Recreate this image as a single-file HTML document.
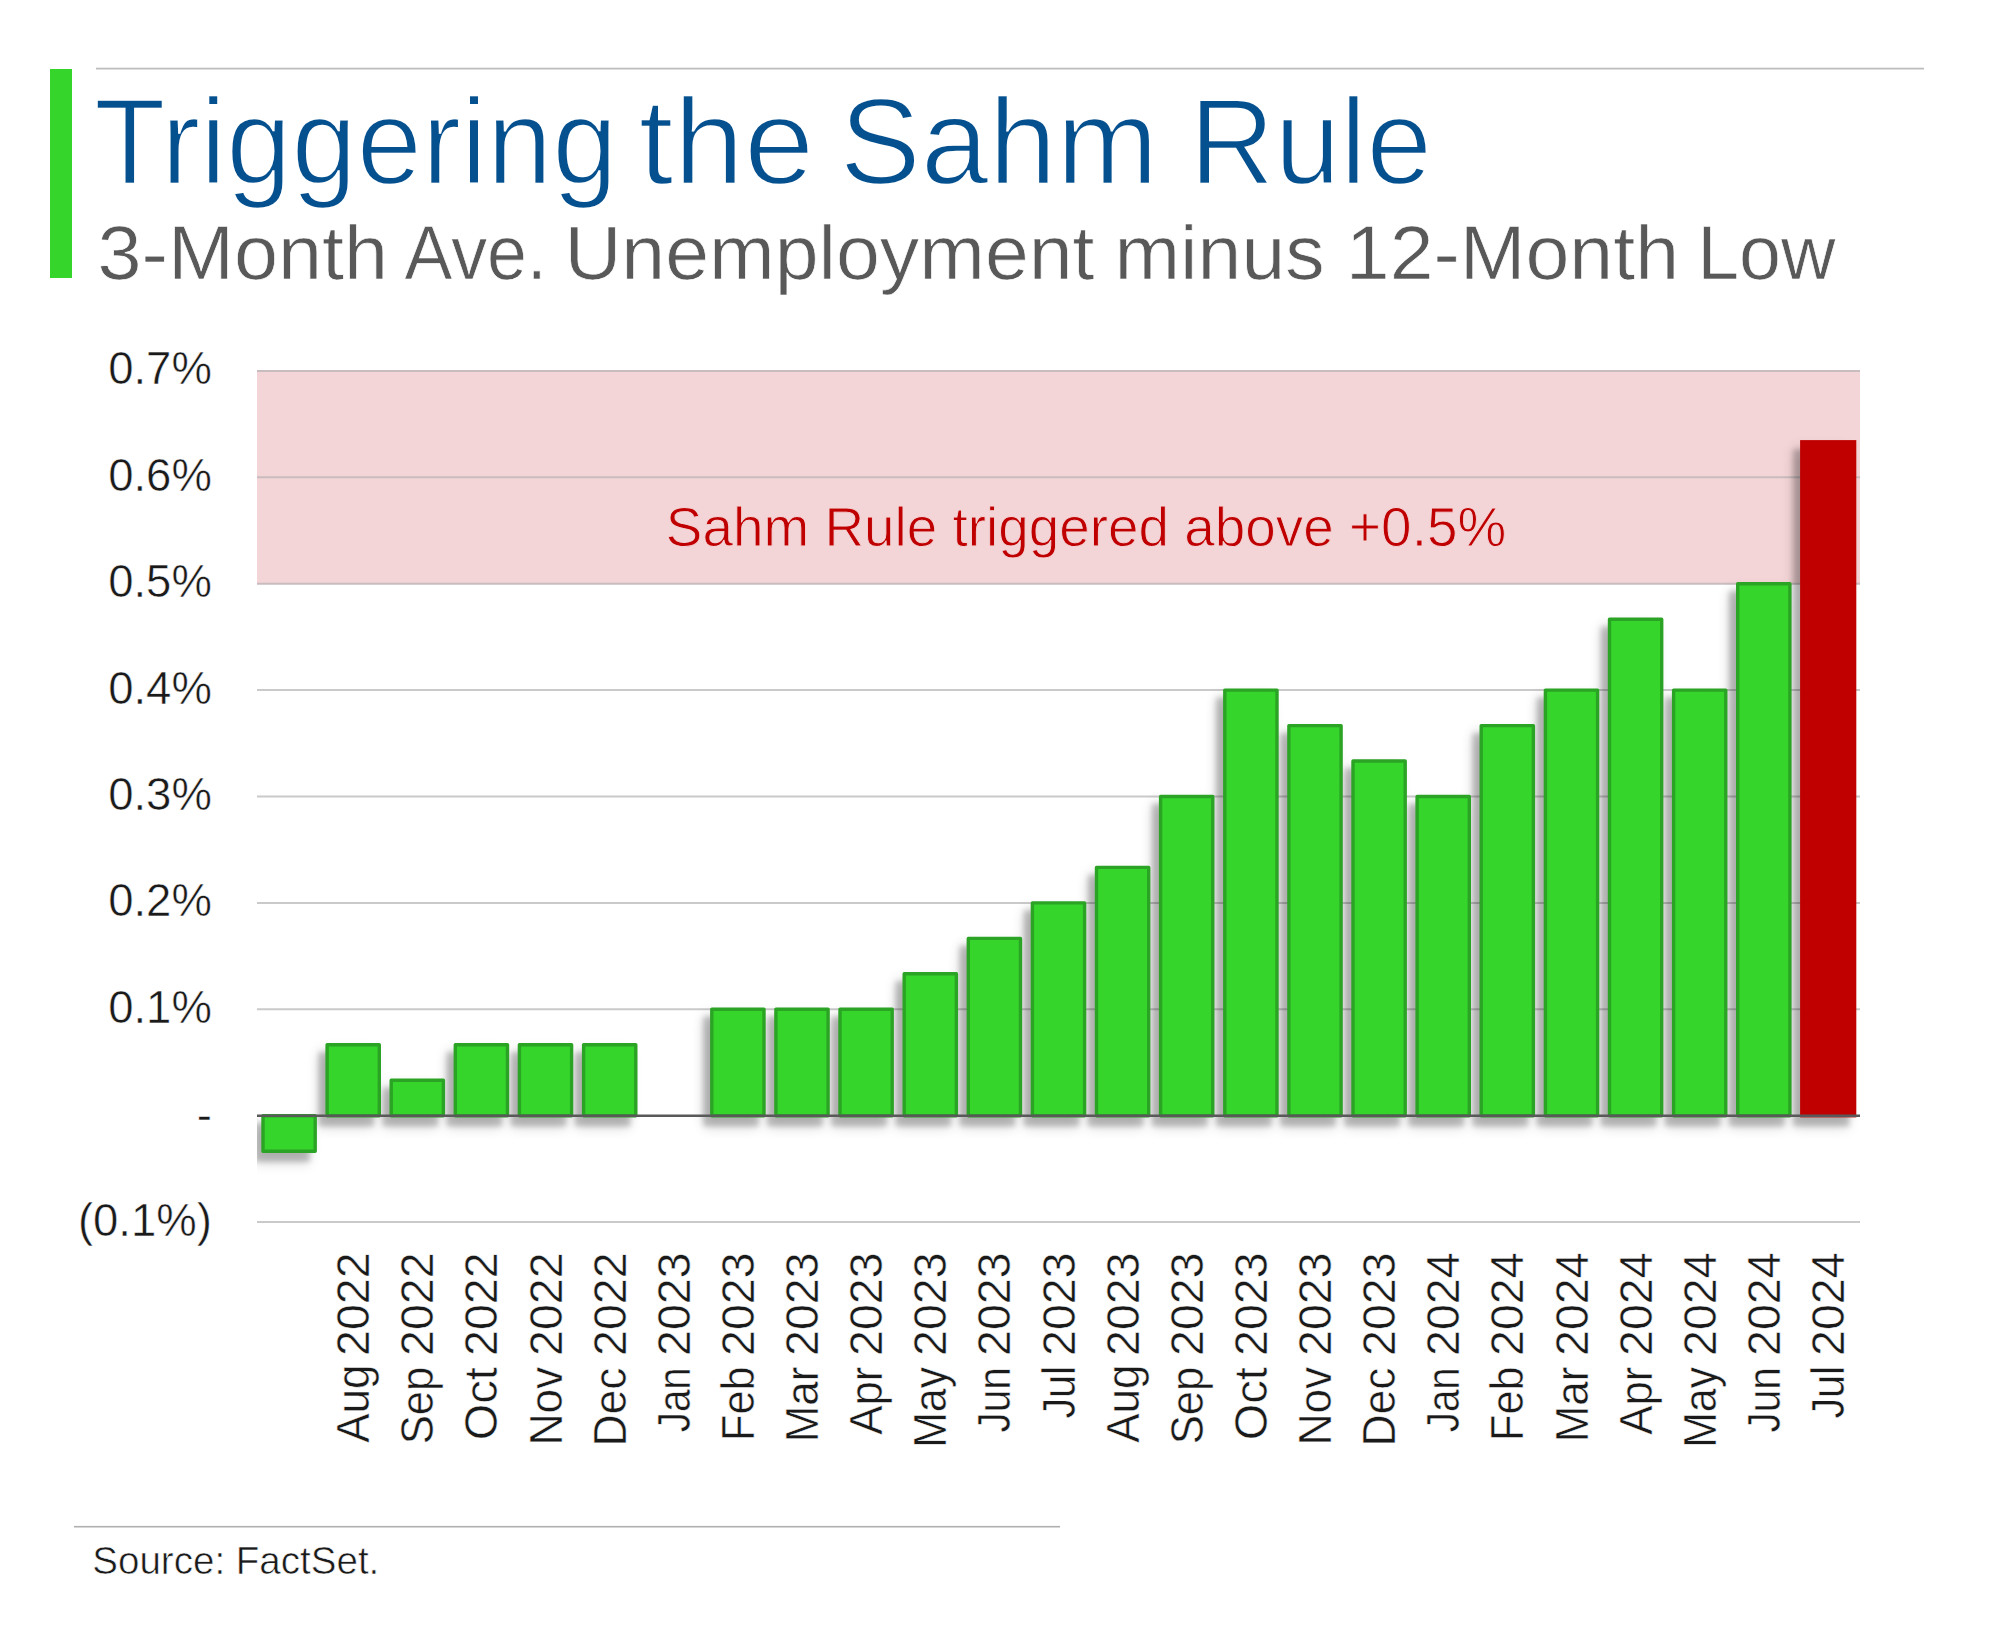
<!DOCTYPE html>
<html lang="en"><head><meta charset="utf-8"><title>Triggering the Sahm Rule</title>
<style>
html,body{margin:0;padding:0;background:#fff;}
body{width:1999px;height:1642px;overflow:hidden;font-family:"Liberation Sans",sans-serif;}
svg{display:block;position:absolute;left:0;top:0;}
text{font-family:"Liberation Sans",sans-serif;}
.yl{font-size:45.5px;fill:#1a1a1a;text-anchor:end;stroke:#fff;stroke-width:0.5px;}
.xl{font-size:45.5px;fill:#1a1a1a;stroke:#fff;stroke-width:0.5px;}
.g{stroke-width:2;}
.b{fill:#35d52c;stroke:#2ba324;stroke-width:3.4;stroke-linejoin:round;}
</style></head><body>
<svg width="1999" height="1642" viewBox="0 0 1999 1642">
<defs>
<filter id="sh" x="-30%" y="-30%" width="160%" height="160%" color-interpolation-filters="sRGB"><feGaussianBlur in="SourceAlpha" stdDeviation="6 7"/><feOffset dx="-7" dy="9"/><feComponentTransfer result="wide"><feFuncA type="linear" slope="0.19"/></feComponentTransfer><feGaussianBlur in="SourceAlpha" stdDeviation="2.4"/><feOffset dx="-7.5" dy="8.5"/><feComponentTransfer result="tight"><feFuncA type="linear" slope="0.18"/></feComponentTransfer><feMerge><feMergeNode in="wide"/><feMergeNode in="tight"/><feMergeNode in="SourceGraphic"/></feMerge></filter>
<clipPath id="cp"><rect x="257" y="340" width="1609" height="900"/></clipPath>
</defs>
<rect width="1999" height="1642" fill="#ffffff"/>
<rect x="50" y="69" width="22" height="209" fill="#35d52c"/>
<rect x="96" y="67.7" width="1828" height="1.8" fill="#bdbdbd"/>
<text y="183.6" font-size="123" fill="#05508f" stroke="#ffffff" stroke-width="2.4"><tspan x="93.9" textLength="523.7" lengthAdjust="spacingAndGlyphs">Triggering</tspan> <tspan x="638.6" textLength="175.6" lengthAdjust="spacingAndGlyphs">the</tspan> <tspan x="839.4" textLength="318.8" lengthAdjust="spacingAndGlyphs">Sahm</tspan> <tspan x="1189.6" textLength="242.4" lengthAdjust="spacingAndGlyphs">Rule</tspan></text>
<text y="278.8" font-size="76" fill="#595959" stroke="#ffffff" stroke-width="0.7"><tspan x="97.6" textLength="290.4" lengthAdjust="spacingAndGlyphs">3-Month</tspan> <tspan x="404.6" textLength="142.2" lengthAdjust="spacingAndGlyphs">Ave.</tspan> <tspan x="564.4" textLength="530.1" lengthAdjust="spacingAndGlyphs">Unemployment</tspan> <tspan x="1114.5" textLength="210.1" lengthAdjust="spacingAndGlyphs">minus</tspan> <tspan x="1345.8" textLength="333.2" lengthAdjust="spacingAndGlyphs">12-Month</tspan> <tspan x="1697.2" textLength="138.3" lengthAdjust="spacingAndGlyphs">Low</tspan></text>
<rect x="257" y="370.9" width="1603" height="212.8" fill="#f4d5d7"/>
<line class="g" x1="257" y1="1222.1" x2="1860" y2="1222.1" stroke="#cacaca"/>
<line class="g" x1="257" y1="1009.3" x2="1860" y2="1009.3" stroke="#cacaca"/>
<line class="g" x1="257" y1="902.9" x2="1860" y2="902.9" stroke="#cacaca"/>
<line class="g" x1="257" y1="796.5" x2="1860" y2="796.5" stroke="#cacaca"/>
<line class="g" x1="257" y1="690.1" x2="1860" y2="690.1" stroke="#cacaca"/>
<line class="g" x1="257" y1="583.7" x2="1860" y2="583.7" stroke="#c8bcbe"/>
<line class="g" x1="257" y1="477.3" x2="1860" y2="477.3" stroke="#c8bcbe"/>
<line class="g" x1="257" y1="370.9" x2="1860" y2="370.9" stroke="#c8bcbe"/>
<text class="yl" x="211.9" y="384.3">0.7%</text>
<text class="yl" x="211.9" y="490.7">0.6%</text>
<text class="yl" x="211.9" y="597.1">0.5%</text>
<text class="yl" x="211.9" y="703.5">0.4%</text>
<text class="yl" x="211.9" y="809.9">0.3%</text>
<text class="yl" x="211.9" y="916.3">0.2%</text>
<text class="yl" x="211.9" y="1022.7">0.1%</text>
<text class="yl" x="211.9" y="1131.0">-</text>
<text class="yl" x="211.9" y="1235.5">(0.1%)</text>
<text x="665.8" y="545.7" font-size="55.2" fill="#c00000" stroke="#f4d5d7" stroke-width="0.9" textLength="840.4" lengthAdjust="spacingAndGlyphs">Sahm Rule triggered above +0.5%</text>
<g clip-path="url(#cp)"><g filter="url(#sh)">
<rect class="b" x="263.0" y="1115.7" width="52.2" height="35.5"/>
<rect class="b" x="327.1" y="1044.8" width="52.2" height="70.9"/>
<rect class="b" x="391.2" y="1080.2" width="52.2" height="35.5"/>
<rect class="b" x="455.3" y="1044.8" width="52.2" height="70.9"/>
<rect class="b" x="519.4" y="1044.8" width="52.2" height="70.9"/>
<rect class="b" x="583.6" y="1044.8" width="52.2" height="70.9"/>
<rect class="b" x="711.8" y="1009.3" width="52.2" height="106.4"/>
<rect class="b" x="775.9" y="1009.3" width="52.2" height="106.4"/>
<rect class="b" x="840.0" y="1009.3" width="52.2" height="106.4"/>
<rect class="b" x="904.2" y="973.8" width="52.2" height="141.9"/>
<rect class="b" x="968.3" y="938.4" width="52.2" height="177.3"/>
<rect class="b" x="1032.4" y="902.9" width="52.2" height="212.8"/>
<rect class="b" x="1096.5" y="867.4" width="52.2" height="248.3"/>
<rect class="b" x="1160.6" y="796.5" width="52.2" height="319.2"/>
<rect class="b" x="1224.8" y="690.1" width="52.2" height="425.6"/>
<rect class="b" x="1288.9" y="725.6" width="52.2" height="390.1"/>
<rect class="b" x="1353.0" y="761.0" width="52.2" height="354.7"/>
<rect class="b" x="1417.1" y="796.5" width="52.2" height="319.2"/>
<rect class="b" x="1481.2" y="725.6" width="52.2" height="390.1"/>
<rect class="b" x="1545.4" y="690.1" width="52.2" height="425.6"/>
<rect class="b" x="1609.5" y="619.2" width="52.2" height="496.5"/>
<rect class="b" x="1673.6" y="690.1" width="52.2" height="425.6"/>
<rect class="b" x="1737.7" y="583.7" width="52.2" height="532.0"/>
<rect x="1800.1" y="440.1" width="56.2" height="677.3" fill="#c00000"/>
</g></g>
<line x1="257" y1="1115.7" x2="1860" y2="1115.7" stroke="#595959" stroke-width="2.5"/>
<text class="xl" transform="translate(369.2,0) rotate(-90)"><tspan x="-1442.8" textLength="78.3" lengthAdjust="spacingAndGlyphs">Aug</tspan><tspan x="-1368.9" textLength="116.4" lengthAdjust="spacingAndGlyphs"> 2022</tspan></text>
<text class="xl" transform="translate(433.3,0) rotate(-90)"><tspan x="-1444.3" textLength="77.7" lengthAdjust="spacingAndGlyphs">Sep</tspan><tspan x="-1368.9" textLength="116.4" lengthAdjust="spacingAndGlyphs"> 2022</tspan></text>
<text class="xl" transform="translate(497.4,0) rotate(-90)"><tspan x="-1440.3" textLength="73.2" lengthAdjust="spacingAndGlyphs">Oct</tspan><tspan x="-1368.9" textLength="116.4" lengthAdjust="spacingAndGlyphs"> 2022</tspan></text>
<text class="xl" transform="translate(561.5,0) rotate(-90)"><tspan x="-1445.3" textLength="78.4" lengthAdjust="spacingAndGlyphs">Nov</tspan><tspan x="-1368.9" textLength="116.4" lengthAdjust="spacingAndGlyphs"> 2022</tspan></text>
<text class="xl" transform="translate(625.7,0) rotate(-90)"><tspan x="-1446.2" textLength="78.5" lengthAdjust="spacingAndGlyphs">Dec</tspan><tspan x="-1368.9" textLength="116.4" lengthAdjust="spacingAndGlyphs"> 2022</tspan></text>
<text class="xl" transform="translate(689.8,0) rotate(-90)"><tspan x="-1432.2" textLength="64.9" lengthAdjust="spacingAndGlyphs">Jan</tspan><tspan x="-1368.9" textLength="116.4" lengthAdjust="spacingAndGlyphs"> 2023</tspan></text>
<text class="xl" transform="translate(753.9,0) rotate(-90)"><tspan x="-1441.1" textLength="74.7" lengthAdjust="spacingAndGlyphs">Feb</tspan><tspan x="-1368.9" textLength="116.4" lengthAdjust="spacingAndGlyphs"> 2023</tspan></text>
<text class="xl" transform="translate(818.0,0) rotate(-90)"><tspan x="-1442.3" textLength="75.7" lengthAdjust="spacingAndGlyphs">Mar</tspan><tspan x="-1368.9" textLength="116.4" lengthAdjust="spacingAndGlyphs"> 2023</tspan></text>
<text class="xl" transform="translate(882.1,0) rotate(-90)"><tspan x="-1434.8" textLength="68.2" lengthAdjust="spacingAndGlyphs">Apr</tspan><tspan x="-1368.9" textLength="116.4" lengthAdjust="spacingAndGlyphs"> 2023</tspan></text>
<text class="xl" transform="translate(946.3,0) rotate(-90)"><tspan x="-1447.8" textLength="80.9" lengthAdjust="spacingAndGlyphs">May</tspan><tspan x="-1368.9" textLength="116.4" lengthAdjust="spacingAndGlyphs"> 2023</tspan></text>
<text class="xl" transform="translate(1010.4,0) rotate(-90)"><tspan x="-1432.6" textLength="65.4" lengthAdjust="spacingAndGlyphs">Jun</tspan><tspan x="-1368.9" textLength="116.4" lengthAdjust="spacingAndGlyphs"> 2023</tspan></text>
<text class="xl" transform="translate(1074.5,0) rotate(-90)"><tspan x="-1418.6" textLength="52.9" lengthAdjust="spacingAndGlyphs">Jul</tspan><tspan x="-1368.9" textLength="116.4" lengthAdjust="spacingAndGlyphs"> 2023</tspan></text>
<text class="xl" transform="translate(1138.6,0) rotate(-90)"><tspan x="-1442.8" textLength="78.3" lengthAdjust="spacingAndGlyphs">Aug</tspan><tspan x="-1368.9" textLength="116.4" lengthAdjust="spacingAndGlyphs"> 2023</tspan></text>
<text class="xl" transform="translate(1202.7,0) rotate(-90)"><tspan x="-1444.3" textLength="77.7" lengthAdjust="spacingAndGlyphs">Sep</tspan><tspan x="-1368.9" textLength="116.4" lengthAdjust="spacingAndGlyphs"> 2023</tspan></text>
<text class="xl" transform="translate(1266.9,0) rotate(-90)"><tspan x="-1440.3" textLength="73.2" lengthAdjust="spacingAndGlyphs">Oct</tspan><tspan x="-1368.9" textLength="116.4" lengthAdjust="spacingAndGlyphs"> 2023</tspan></text>
<text class="xl" transform="translate(1331.0,0) rotate(-90)"><tspan x="-1445.3" textLength="78.4" lengthAdjust="spacingAndGlyphs">Nov</tspan><tspan x="-1368.9" textLength="116.4" lengthAdjust="spacingAndGlyphs"> 2023</tspan></text>
<text class="xl" transform="translate(1395.1,0) rotate(-90)"><tspan x="-1446.2" textLength="78.5" lengthAdjust="spacingAndGlyphs">Dec</tspan><tspan x="-1368.9" textLength="116.4" lengthAdjust="spacingAndGlyphs"> 2023</tspan></text>
<text class="xl" transform="translate(1459.2,0) rotate(-90)"><tspan x="-1432.2" textLength="64.9" lengthAdjust="spacingAndGlyphs">Jan</tspan><tspan x="-1368.9" textLength="116.4" lengthAdjust="spacingAndGlyphs"> 2024</tspan></text>
<text class="xl" transform="translate(1523.3,0) rotate(-90)"><tspan x="-1441.1" textLength="74.7" lengthAdjust="spacingAndGlyphs">Feb</tspan><tspan x="-1368.9" textLength="116.4" lengthAdjust="spacingAndGlyphs"> 2024</tspan></text>
<text class="xl" transform="translate(1587.5,0) rotate(-90)"><tspan x="-1442.3" textLength="75.7" lengthAdjust="spacingAndGlyphs">Mar</tspan><tspan x="-1368.9" textLength="116.4" lengthAdjust="spacingAndGlyphs"> 2024</tspan></text>
<text class="xl" transform="translate(1651.6,0) rotate(-90)"><tspan x="-1434.8" textLength="68.2" lengthAdjust="spacingAndGlyphs">Apr</tspan><tspan x="-1368.9" textLength="116.4" lengthAdjust="spacingAndGlyphs"> 2024</tspan></text>
<text class="xl" transform="translate(1715.7,0) rotate(-90)"><tspan x="-1447.8" textLength="80.9" lengthAdjust="spacingAndGlyphs">May</tspan><tspan x="-1368.9" textLength="116.4" lengthAdjust="spacingAndGlyphs"> 2024</tspan></text>
<text class="xl" transform="translate(1779.8,0) rotate(-90)"><tspan x="-1432.6" textLength="65.4" lengthAdjust="spacingAndGlyphs">Jun</tspan><tspan x="-1368.9" textLength="116.4" lengthAdjust="spacingAndGlyphs"> 2024</tspan></text>
<text class="xl" transform="translate(1843.9,0) rotate(-90)"><tspan x="-1418.6" textLength="52.9" lengthAdjust="spacingAndGlyphs">Jul</tspan><tspan x="-1368.9" textLength="116.4" lengthAdjust="spacingAndGlyphs"> 2024</tspan></text>
<rect x="74" y="1525.9" width="986" height="1.6" fill="#b0b0b0"/>
<text x="92.3" y="1574.3" font-size="39" fill="#1a1a1a" stroke="#ffffff" stroke-width="0.6" textLength="287" lengthAdjust="spacingAndGlyphs">Source: FactSet.</text>
</svg>
</body></html>
